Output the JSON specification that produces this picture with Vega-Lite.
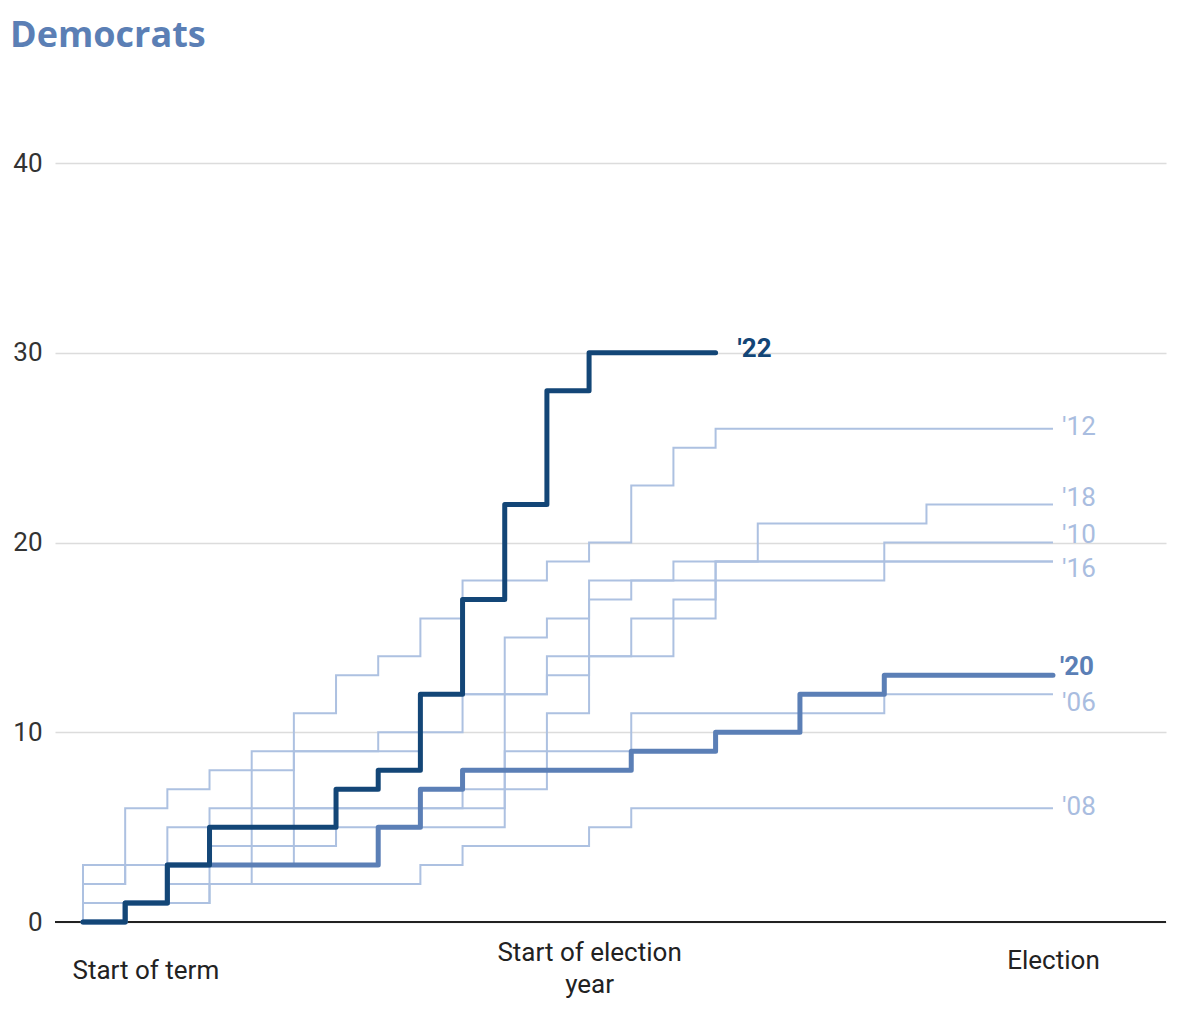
{
  "$schema": "https://vega.github.io/schema/vega-lite/v6.json",
  "width": 1111,
  "height": 759,
  "autosize": {"type": "none"},
  "padding": {"left": 55, "top": 163, "right": 14, "bottom": 98},
  "background": "white",
  "title": {"text": "Democrats", "anchor": "start", "frame": "group", "dx": -45, "offset": 67, "baseline": "alphabetic", "fontSize": 36, "font": "Open Sans", "fontWeight": "bold", "color": "#5b7fb5"},
  "config": {"view": {"stroke": null}, "font": "Roboto"},
  "datasets": {
    "lines": [
      {"year": "'12", "m": 0, "v": 0}, {"year": "'12", "m": 0, "v": 3}, {"year": "'12", "m": 1, "v": 6}, {"year": "'12", "m": 2, "v": 7}, {"year": "'12", "m": 3, "v": 8}, {"year": "'12", "m": 4, "v": 9}, {"year": "'12", "m": 5, "v": 11}, {"year": "'12", "m": 6, "v": 13}, {"year": "'12", "m": 7, "v": 14}, {"year": "'12", "m": 8, "v": 16}, {"year": "'12", "m": 9, "v": 18}, {"year": "'12", "m": 11, "v": 19}, {"year": "'12", "m": 12, "v": 20}, {"year": "'12", "m": 13, "v": 23}, {"year": "'12", "m": 14, "v": 25}, {"year": "'12", "m": 15, "v": 26}, {"year": "'12", "m": 23, "v": 26},
      {"year": "'18", "m": 0, "v": 0}, {"year": "'18", "m": 0, "v": 2}, {"year": "'18", "m": 1, "v": 3}, {"year": "'18", "m": 2, "v": 5}, {"year": "'18", "m": 3, "v": 6}, {"year": "'18", "m": 4, "v": 8}, {"year": "'18", "m": 5, "v": 9}, {"year": "'18", "m": 7, "v": 10}, {"year": "'18", "m": 8, "v": 12}, {"year": "'18", "m": 10, "v": 15}, {"year": "'18", "m": 11, "v": 16}, {"year": "'18", "m": 12, "v": 18}, {"year": "'18", "m": 14, "v": 19}, {"year": "'18", "m": 16, "v": 21}, {"year": "'18", "m": 20, "v": 22}, {"year": "'18", "m": 23, "v": 22},
      {"year": "'10", "m": 0, "v": 0}, {"year": "'10", "m": 0, "v": 2}, {"year": "'10", "m": 1, "v": 3}, {"year": "'10", "m": 3, "v": 5}, {"year": "'10", "m": 4, "v": 6}, {"year": "'10", "m": 5, "v": 9}, {"year": "'10", "m": 8, "v": 10}, {"year": "'10", "m": 9, "v": 12}, {"year": "'10", "m": 11, "v": 14}, {"year": "'10", "m": 12, "v": 17}, {"year": "'10", "m": 13, "v": 18}, {"year": "'10", "m": 15, "v": 19}, {"year": "'10", "m": 19, "v": 20}, {"year": "'10", "m": 23, "v": 20},
      {"year": "'16", "m": 0, "v": 0}, {"year": "'16", "m": 0, "v": 1}, {"year": "'16", "m": 2, "v": 3}, {"year": "'16", "m": 3, "v": 4}, {"year": "'16", "m": 4, "v": 5}, {"year": "'16", "m": 5, "v": 6}, {"year": "'16", "m": 9, "v": 7}, {"year": "'16", "m": 10, "v": 12}, {"year": "'16", "m": 11, "v": 13}, {"year": "'16", "m": 12, "v": 14}, {"year": "'16", "m": 13, "v": 16}, {"year": "'16", "m": 14, "v": 17}, {"year": "'16", "m": 15, "v": 19}, {"year": "'16", "m": 23, "v": 19},
      {"year": "'14", "m": 0, "v": 0}, {"year": "'14", "m": 0, "v": 1}, {"year": "'14", "m": 2, "v": 2}, {"year": "'14", "m": 3, "v": 3}, {"year": "'14", "m": 4, "v": 4}, {"year": "'14", "m": 5, "v": 6}, {"year": "'14", "m": 10, "v": 9}, {"year": "'14", "m": 11, "v": 11}, {"year": "'14", "m": 12, "v": 14}, {"year": "'14", "m": 14, "v": 16}, {"year": "'14", "m": 15, "v": 18}, {"year": "'14", "m": 19, "v": 19}, {"year": "'14", "m": 23, "v": 19},
      {"year": "'06", "m": 0, "v": 0}, {"year": "'06", "m": 0, "v": 1}, {"year": "'06", "m": 3, "v": 2}, {"year": "'06", "m": 4, "v": 3}, {"year": "'06", "m": 5, "v": 4}, {"year": "'06", "m": 6, "v": 5}, {"year": "'06", "m": 10, "v": 7}, {"year": "'06", "m": 11, "v": 9}, {"year": "'06", "m": 13, "v": 11}, {"year": "'06", "m": 19, "v": 12}, {"year": "'06", "m": 23, "v": 12},
      {"year": "'08", "m": 0, "v": 0}, {"year": "'08", "m": 0, "v": 1}, {"year": "'08", "m": 3, "v": 2}, {"year": "'08", "m": 8, "v": 3}, {"year": "'08", "m": 9, "v": 4}, {"year": "'08", "m": 12, "v": 5}, {"year": "'08", "m": 13, "v": 6}, {"year": "'08", "m": 23, "v": 6}
    ],
    "y20": [
      {"year": "'20", "m": 0, "v": 0}, {"year": "'20", "m": 1, "v": 1}, {"year": "'20", "m": 2, "v": 3}, {"year": "'20", "m": 7, "v": 5}, {"year": "'20", "m": 8, "v": 7}, {"year": "'20", "m": 9, "v": 8}, {"year": "'20", "m": 13, "v": 9}, {"year": "'20", "m": 15, "v": 10}, {"year": "'20", "m": 17, "v": 12}, {"year": "'20", "m": 19, "v": 13}, {"year": "'20", "m": 23, "v": 13}
    ],
    "y22": [
      {"year": "'22", "m": 0, "v": 0}, {"year": "'22", "m": 1, "v": 1}, {"year": "'22", "m": 2, "v": 3}, {"year": "'22", "m": 3, "v": 5}, {"year": "'22", "m": 6, "v": 7}, {"year": "'22", "m": 7, "v": 8}, {"year": "'22", "m": 8, "v": 12}, {"year": "'22", "m": 9, "v": 17}, {"year": "'22", "m": 10, "v": 22}, {"year": "'22", "m": 11, "v": 28}, {"year": "'22", "m": 12, "v": 30}, {"year": "'22", "m": 15, "v": 30}
    ],
    "labels": [
      {"year": "'12", "m": 23, "v": 26.1}, {"year": "'18", "m": 23, "v": 22.35}, {"year": "'10", "m": 23, "v": 20.4}, {"year": "'16", "m": 23, "v": 18.6}, {"year": "'06", "m": 23, "v": 11.55}, {"year": "'08", "m": 23, "v": 6.06}
    ]
  },
  "layer": [
    {
      "data": {"name": "lines"},
      "mark": {"type": "line", "interpolate": "step-after", "color": "#adc1e1", "strokeWidth": 2},
      "encoding": {
        "x": {"field": "m", "type": "quantitative", "scale": {"domain": [-0.664, 25.68], "nice": false, "zero": false},
              "axis": {"values": [0, 12, 23], "title": null, "domain": false, "ticks": false, "grid": false, "labelFontSize": 26, "labelColor": "#222", "labelBaseline": "top", "labelLineHeight": 32, "labelLimit": 400, "labelOverlap": false,
                       "labelPadding": {"condition": [{"test": "datum.value == 0", "value": 35}, {"test": "datum.value == 23", "value": 25}], "value": 17},
                       "labelAlign": {"condition": {"test": "datum.value == 0", "value": "left"}, "value": "center"},
                       "labelOffset": {"condition": {"test": "datum.value == 0", "value": -11}, "value": 0},
                       "labelExpr": "datum.value == 12 ? ['Start of election', 'year'] : (datum.value == 23 ? 'Election' : 'Start of term')"}},
        "y": {"field": "v", "type": "quantitative", "scale": {"domain": [0, 40], "nice": false},
              "axis": {"values": [0, 10, 20, 30, 40], "title": null, "domain": false, "ticks": false, "grid": true, "gridColor": "#dcdcdc", "gridWidth": 1.5, "labelFontSize": 26, "labelColor": "#333", "labelPadding": 13}},
        "detail": {"field": "year"},
        "order": [{"field": "m", "type": "quantitative"}, {"field": "v", "type": "quantitative"}]
      }
    },
    {
      "data": {"values": [{"v": 0}]},
      "mark": {"type": "rule", "color": "#222", "strokeWidth": 2},
      "encoding": {"y": {"field": "v", "type": "quantitative"}}
    },
    {
      "data": {"name": "y20"},
      "mark": {"type": "line", "interpolate": "step-after", "color": "#5b7fb6", "strokeWidth": 5, "strokeCap": "round", "strokeJoin": "round"},
      "encoding": {
        "x": {"field": "m", "type": "quantitative"},
        "y": {"field": "v", "type": "quantitative"},
        "order": [{"field": "m", "type": "quantitative"}, {"field": "v", "type": "quantitative"}]
      }
    },
    {
      "data": {"name": "y22"},
      "mark": {"type": "line", "interpolate": "step-after", "color": "#134677", "strokeWidth": 5, "strokeCap": "round", "strokeJoin": "round"},
      "encoding": {
        "x": {"field": "m", "type": "quantitative"},
        "y": {"field": "v", "type": "quantitative"},
        "order": [{"field": "m", "type": "quantitative"}, {"field": "v", "type": "quantitative"}]
      }
    },
    {
      "data": {"name": "labels"},
      "mark": {"type": "text", "align": "left", "baseline": "middle", "dx": 9, "fontSize": 26, "color": "#a9bde0"},
      "encoding": {
        "x": {"field": "m", "type": "quantitative"},
        "y": {"field": "v", "type": "quantitative"},
        "text": {"field": "year"}
      }
    },
    {
      "data": {"values": [{"year": "'20", "m": 23, "v": 13.45}]},
      "mark": {"type": "text", "align": "left", "baseline": "middle", "dx": 7, "fontSize": 26, "fontWeight": "bold", "color": "#5b7fb6"},
      "encoding": {
        "x": {"field": "m", "type": "quantitative"},
        "y": {"field": "v", "type": "quantitative"},
        "text": {"field": "year"}
      }
    },
    {
      "data": {"values": [{"year": "'22", "m": 15, "v": 30.2}]},
      "mark": {"type": "text", "align": "left", "baseline": "middle", "dx": 22, "fontSize": 26, "fontWeight": "bold", "color": "#134677"},
      "encoding": {
        "x": {"field": "m", "type": "quantitative"},
        "y": {"field": "v", "type": "quantitative"},
        "text": {"field": "year"}
      }
    }
  ]
}
